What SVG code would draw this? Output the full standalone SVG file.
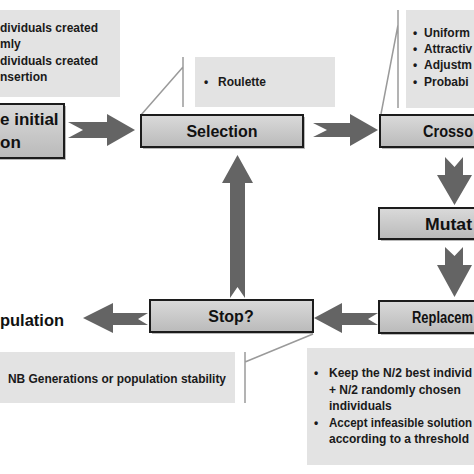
<svg xmlns="http://www.w3.org/2000/svg" width="474" height="474" viewBox="0 0 474 474">
<defs>
<linearGradient id="boxg" x1="0" y1="0" x2="0" y2="1">
<stop offset="0" stop-color="#dadada"/>
<stop offset="1" stop-color="#bababa"/>
</linearGradient>
</defs>
<style>
.box{fill:url(#boxg);stroke:#1c1c1c;stroke-width:2}
.shadow{fill:#8a8a8a;opacity:0.6}
.callout{fill:#e3e3e3}
.cline{stroke:#9a9a9a;stroke-width:1.5;fill:none}
.arrow{fill:#646464}
.title{font-family:"Liberation Sans",Arial,sans-serif;font-weight:bold;font-size:16px;fill:#111}
.big{font-family:"Liberation Sans",Arial,sans-serif;font-weight:bold;font-size:17px;fill:#111}
.small{font-family:"Liberation Sans",Arial,sans-serif;font-weight:bold;font-size:12px;fill:#1a1a1a}
</style>
<rect width="474" height="474" fill="#ffffff"/>

<!-- callouts -->
<g id="callout-init">
<rect class="callout" x="0" y="10" width="120" height="87"/>
<text class="small" x="0" y="32">dividuals created</text>
<text class="small" x="0" y="48">mly</text>
<text class="small" x="0" y="65">dividuals created</text>
<text class="small" x="0" y="81">nsertion</text>
</g>
<g id="callout-selection">
<rect class="callout" x="195" y="57" width="140" height="50"/>
<text class="small" x="204" y="86">•</text>
<text class="small" x="218" y="86">Roulette</text>
</g>
<g id="callout-crossover">
<rect class="callout" x="406" y="10" width="68" height="98"/>
<text class="small" x="413" y="37">•</text><text class="small" x="424" y="37">Uniform</text>
<text class="small" x="413" y="53">•</text><text class="small" x="424" y="53" textLength="48" lengthAdjust="spacingAndGlyphs">Attractiv</text>
<text class="small" x="413" y="69">•</text><text class="small" x="424" y="69">Adjustm</text>
<text class="small" x="413" y="86">•</text><text class="small" x="424" y="86">Probabi</text>
</g>
<g id="callout-stop">
<rect class="callout" x="0" y="352" width="235" height="51"/>
<text class="small" x="8" y="383" textLength="218" lengthAdjust="spacingAndGlyphs">NB Generations or population stability</text>
</g>
<g id="callout-replacement">
<rect class="callout" x="307" y="348" width="167" height="117"/>
<text class="small" x="314" y="377">•</text><text class="small" x="329" y="377" textLength="143" lengthAdjust="spacingAndGlyphs">Keep the N/2 best individ</text>
<text class="small" x="329" y="394">+ N/2 randomly chosen</text>
<text class="small" x="329" y="410">individuals</text>
<text class="small" x="314" y="427">•</text><text class="small" x="329" y="427" textLength="143" lengthAdjust="spacingAndGlyphs">Accept infeasible solution</text>
<text class="small" x="329" y="443">according to a threshold</text>
</g>

<!-- connectors -->
<g id="connectors">
<path class="cline" d="M183,57 V107 M183,67 L141,115"/>
<path class="cline" d="M398,10 V108 M398,25 L381,114"/>
<path class="cline" d="M245,352 V403 M245,362 L313,334"/>
<polygon class="arrow" points="68,122 107,122 107,114 135,130 107,146 107,138 68,138 83,130"/>
<polygon class="arrow" points="313,123 350,123 350,114 378,130 350,146 350,137 313,137 327,130"/>
<polygon class="arrow" points="445,157 454.5,167 463,157 463,175 472,175 454.5,205 437,175 445,175"/>
<polygon class="arrow" points="445,247 454.5,256 463,247 463,265 472,265 454.5,297 437,265 445,265"/>
<polygon class="arrow" points="230,298 237.5,287 245,298 245,183 253,183 237.5,155 222,183 230,183"/>
<polygon class="arrow" points="148,313 113,313 113,303 83,318 113,333 113,325 148,325 138,319"/>
<polygon class="arrow" points="378,313 342,313 342,303 314,318 342,333 342,325 378,325 368,319"/>
</g>

<!-- nodes -->
<g id="node-initial">
<rect class="shadow" x="-8" y="106" width="74" height="54"/>
<rect class="box" x="-10" y="104" width="74" height="54"/>
<text class="big" x="0" y="125">e initial</text>
<text class="big" x="0" y="148">on</text>
</g>
<g id="node-selection">
<rect class="shadow" x="143" y="117" width="162" height="32"/>
<rect class="box" x="141" y="115" width="162" height="32"/>
<text class="title" x="222" y="137" text-anchor="middle">Selection</text>
</g>
<g id="node-crossover">
<rect class="shadow" x="382" y="117" width="100" height="32"/>
<rect class="box" x="380" y="115" width="100" height="32"/>
<text class="title" x="423" y="137" textLength="50" lengthAdjust="spacingAndGlyphs">Crosso</text>
</g>
<g id="node-mutation">
<rect class="shadow" x="381" y="210" width="100" height="31"/>
<rect class="box" x="379" y="208" width="100" height="31"/>
<text class="title" x="425" y="230" textLength="47" lengthAdjust="spacingAndGlyphs">Mutat</text>
</g>
<g id="node-replacement">
<rect class="shadow" x="381" y="303" width="100" height="32"/>
<rect class="box" x="379" y="301" width="100" height="32"/>
<text class="title" x="412" y="323" textLength="61" lengthAdjust="spacingAndGlyphs">Replacem</text>
</g>
<g id="node-stop">
<rect class="shadow" x="152" y="302" width="161" height="32"/>
<rect class="box" x="150" y="300" width="163" height="32"/>
<text class="title" x="231" y="322" text-anchor="middle">Stop?</text>
</g>
<g id="node-population">
<text class="big" x="0" y="326" textLength="64" lengthAdjust="spacingAndGlyphs">pulation</text>
</g>
</svg>
